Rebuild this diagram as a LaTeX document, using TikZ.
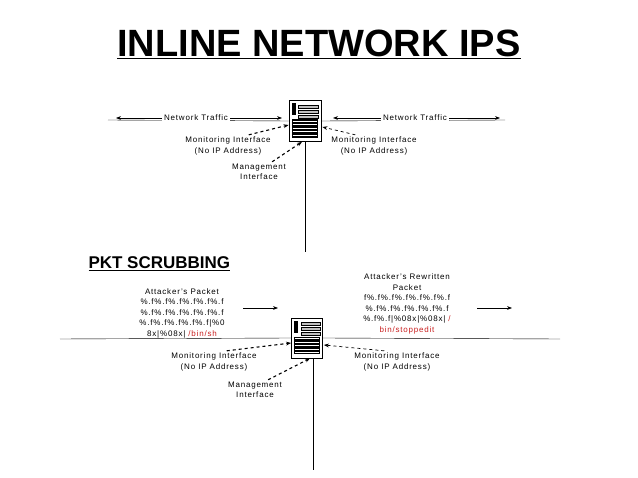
\documentclass[tikz,border=0pt]{standalone}
\usepackage{fontspec}
\setmainfont{Liberation Sans}
\usetikzlibrary{arrows.meta}
\definecolor{redtxt}{RGB}{200,30,30}
\begin{document}
\begin{tikzpicture}[x=1pt,y=-1pt,
  lbl/.style={font=\fontsize{8}{10.5}\selectfont\addfontfeatures{LetterSpace=10},align=center,inner sep=0pt},
  dasharr/.style={dashed,line width=1.1pt,-{Stealth[length=5pt]}},
  traf/.style={line width=0.6pt,-{Stealth[length=5pt]}},
  dev/.style={draw,line width=0.8pt,fill=white,minimum width=32pt,minimum height=41pt,inner sep=0pt}]
\useasboundingbox (0,0) rectangle (638,478);
\node[font=\bfseries\fontsize{38}{42}\selectfont] (title) at (319,44) {\underline{INLINE NETWORK IPS}};
% top
\coordinate (l1) at (108,120); \coordinate (r1) at (505,120);
\node[dev] (d1) at (305,121) {};
\draw (l1) -- (d1.west); \draw (d1.east) -- (r1);
\foreach \i in {0,1,2}{\draw[fill=gray!50] ([xshift=10pt,yshift=-5pt-\i*5pt]d1.north west) rectangle ([xshift=-3pt,yshift=-8pt-\i*5pt]d1.north east);}
\fill ([xshift=3pt,yshift=-3pt]d1.north west) rectangle ([xshift=7pt,yshift=-15pt]d1.north west);
\fill ([xshift=3pt,yshift=-19pt]d1.north west) rectangle ([xshift=-3pt,yshift=4pt]d1.south east);
\foreach \r in {0,...,4}{\draw[white,line width=0.6pt] ([xshift=4pt,yshift=-21pt-\r*3.5pt]d1.north west) -- ([xshift=-4pt,yshift=-21pt-\r*3.5pt]d1.north east);}
\node[lbl,fill=white,inner sep=2pt] (nt1) at (196,118) {Network Traffic};
\draw[traf] (nt1.west) -- (116,118);
\draw[traf] (nt1.east) -- (282,118);
\node[lbl,fill=white,inner sep=2pt] (nt2) at (415,118) {Network Traffic};
\draw[traf] (nt2.west) -- (333,118);
\draw[traf] (nt2.east) -- (500,118);
\coordinate (b1) at (305,252);
\draw[line width=0.8pt] (d1.south) -- (b1);
\node[lbl] (m1) at (228,146) {Monitoring Interface\\(No IP Address)};
\node[lbl] (m2) at (374,146) {Monitoring Interface\\(No IP Address)};
\node[lbl] (mg1) at (259,172) {Management\\Interface};
\draw[dasharr] (m1.north east) ++(-22,-2) -- ([yshift=-4pt]d1.west);
\draw[dasharr,line width=0.7pt] (m2.north west) ++(24,-2) -- ([xshift=1pt,yshift=-6pt]d1.east);
\draw[dasharr] (mg1.north east) ++(-14,-2) -- ([xshift=-3pt]d1.south);
% bottom
\node[font=\bfseries\fontsize{17}{20}\selectfont,anchor=west] (pkt) at (85,264) {\underline{PKT SCRUBBING}};
\coordinate (l2) at (60,339); \coordinate (r2) at (560,339);
\node[dev,minimum width=31pt,minimum height=40pt] (d2) at (307,338) {};
\draw (l2) -- (d2.west); \draw (d2.east) -- (r2);
\foreach \i in {0,1,2}{\draw[fill=gray!50] ([xshift=10pt,yshift=-5pt-\i*5pt]d2.north west) rectangle ([xshift=-3pt,yshift=-8pt-\i*5pt]d2.north east);}
\fill ([xshift=3pt,yshift=-3pt]d2.north west) rectangle ([xshift=7pt,yshift=-15pt]d2.north west);
\fill ([xshift=3pt,yshift=-19pt]d2.north west) rectangle ([xshift=-3pt,yshift=4pt]d2.south east);
\foreach \r in {0,...,4}{\draw[white,line width=0.6pt] ([xshift=4pt,yshift=-21pt-\r*3.5pt]d2.north west) -- ([xshift=-4pt,yshift=-21pt-\r*3.5pt]d2.north east);}
\node[lbl] (ap) at (182,313) {Attacker's Packet\\\%.f\%.f\%.f\%.f\%.f\%.f\\\%.f\%.f\%.f\%.f\%.f\%.f\\\%.f\%.f\%.f\%.f\%.f|\%0\\8x|\%08x| \textcolor{redtxt}{/bin/sh}};
\node[lbl] (rp) at (407,304) {Attacker's Rewritten\\Packet\\f\%.f\%.f\%.f\%.f\%.f\%.f\\\%.f\%.f\%.f\%.f\%.f\%.f\\\%.f\%.f|\%08x|\%08x| \textcolor{redtxt}{/}\\\textcolor{redtxt}{bin/stoppedit}};
\coordinate (a1s) at (243,308); \coordinate (a1e) at (278,308);
\coordinate (a2s) at (477,308); \coordinate (a2e) at (512,308);
\draw[traf] (a1s) -- (a1e);
\draw[traf] (a2s) -- (a2e);
\coordinate (b2) at (313,470);
\draw[line width=0.8pt] ([xshift=6pt]d2.south) -- (b2);
\node[lbl] (m3) at (214,362) {Monitoring Interface\\(No IP Address)};
\node[lbl] (m4) at (397,362) {Monitoring Interface\\(No IP Address)};
\node[lbl] (mg2) at (255,390) {Management\\Interface};
\draw[dasharr] (m3.north east) ++(-30,-2) -- ([yshift=-5pt]d2.west);
\draw[dasharr,line width=0.7pt] (m4.north west) ++(30,-2) -- ([xshift=1pt,yshift=-7pt]d2.east);
\draw[dasharr] (mg2.north east) ++(-14,-2) -- ([xshift=3pt]d2.south);
\end{tikzpicture}
\end{document}
